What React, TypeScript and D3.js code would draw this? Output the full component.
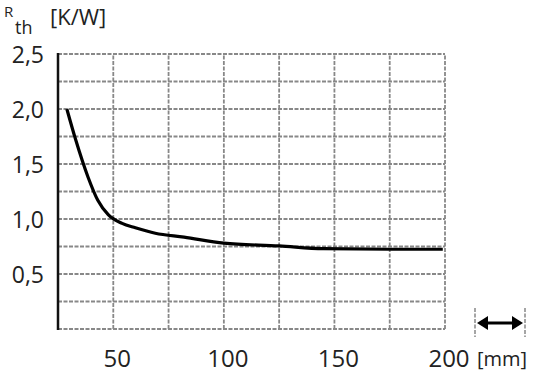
import * as d3 from 'd3';

// curve: length [mm] vs Rth [K/W]
const lengths = [29, 33, 38.6, 43, 47.7, 54, 60, 69, 82, 100, 125, 145, 175, 199];
const rth = [2.0, 1.72, 1.38, 1.17, 1.04, 0.96, 0.92, 0.87, 0.835, 0.78, 0.755, 0.73, 0.725, 0.725];

const xGrid = [25, 50, 75, 100, 125, 150, 175, 200];
const yGrid = [0, 0.25, 0.5, 0.75, 1.0, 1.25, 1.5, 1.75, 2.0, 2.25, 2.5];
const xTicks = [50, 100, 150, 200];
const yTicks = [0.5, 1.0, 1.5, 2.0, 2.5];

const W = 550;
const H = 391;
const font = "'Open Sans', sans-serif";

export default function App() {
    const x = d3.scaleLinear().domain([25, 200]).range([58, 445]);
    const y = d3.scaleLinear().domain([0, 2.5]).range([329, 54]);

    const pts = lengths.map((l, i) => [l, rth[i]] as [number, number]);
    const line = d3.line<[number, number]>()
        .x(d => x(d[0]))
        .y(d => y(d[1]))
        .curve(d3.curveMonotoneX);

    const grid = { stroke: '#888', strokeWidth: 1.8, strokeDasharray: '4 1.5' };

    return (
        <svg width={W} height={H} style={{ position: 'absolute', left: 0, top: 0, background: '#fff' }}>
            {/* grid */}
            {yGrid.map(v => (
                <line key={'h' + v} x1={x(25)} x2={x(200)} y1={y(v)} y2={y(v)} {...grid} />
            ))}
            {xGrid.slice(1).map(v => (
                <line key={'v' + v} x1={x(v)} x2={x(v)} y1={y(0)} y2={y(2.5)} {...grid} />
            ))}
            {/* left axis */}
            <line x1={x(25)} x2={x(25)} y1={y(0) + 1} y2={y(2.5) - 1} stroke="#111" strokeWidth={2.5} />

            {/* curve */}
            <path d={line(pts) ?? ''} fill="none" stroke="#000" strokeWidth={3.2} strokeLinejoin="round" />

            {/* y tick labels */}
            {yTicks.map(v => (
                <text key={'yl' + v} x={44} y={y(v) + 9} textAnchor="end" fontFamily={font} fontSize={23} fill="#222">
                    {v.toFixed(1).replace('.', ',')}
                </text>
            ))}
            {/* x tick labels */}
            {xTicks.map(v => (
                <text key={'xl' + v} x={x(v) + 4} y={367} textAnchor="middle" fontFamily={font} fontSize={24} fill="#222">
                    {v}
                </text>
            ))}

            {/* axis titles */}
            <text x={4} y={17} fontFamily={font} fontSize={15} fill="#222">R</text>
            <text x={15} y={34} fontFamily={font} fontSize={18} fill="#222">th</text>
            <text x={50} y={25} fontFamily={font} fontSize={22} fill="#222">[K/W]</text>
            <text x={477} y={366} fontFamily={font} fontSize={20} fill="#222">[mm]</text>

            {/* length arrow symbol */}
            <line x1={475} x2={475} y1={308} y2={337} {...grid} strokeWidth={1.5} />
            <line x1={525} x2={525} y1={308} y2={337} {...grid} strokeWidth={1.5} />
            <line x1={484} x2={516} y1={323} y2={323} stroke="#000" strokeWidth={3} />
            <path d="M477,323 L488,316 L488,330 Z" fill="#000" />
            <path d="M523,323 L512,316 L512,330 Z" fill="#000" />
        </svg>
    );
}
